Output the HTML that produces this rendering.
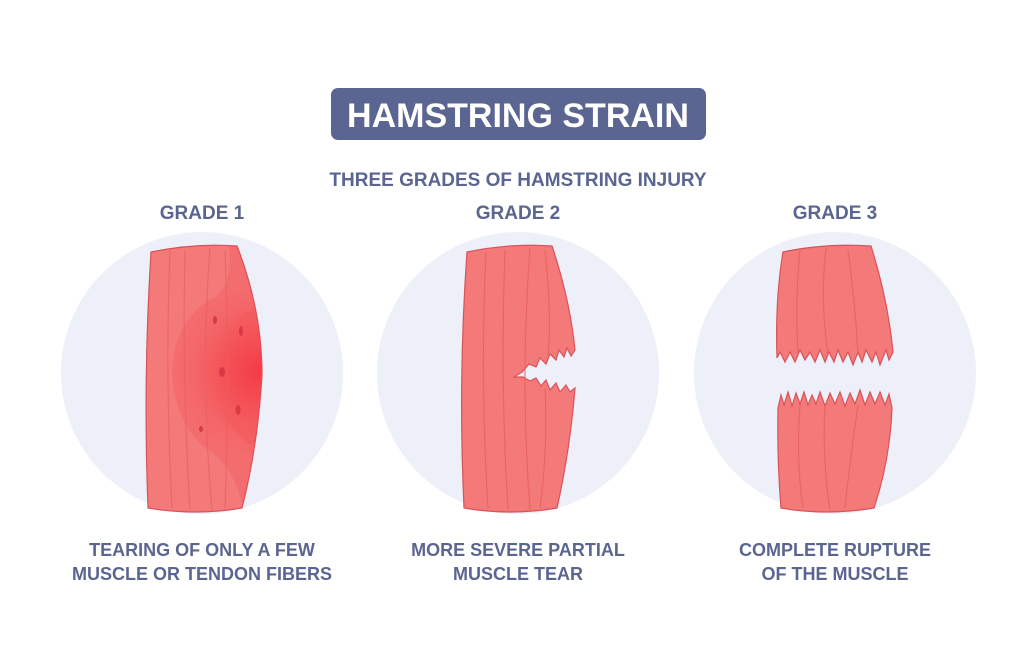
<!DOCTYPE html>
<html><head><meta charset="utf-8"><style>
body{margin:0;background:#fff;}
svg{display:block}
text{font-family:"Liberation Sans","DejaVu Sans",sans-serif;font-weight:bold;fill:#5b6591;text-anchor:middle}
</style></head><body>
<svg width="1024" height="668" viewBox="0 0 1024 668" xmlns="http://www.w3.org/2000/svg">
<defs>
<radialGradient id="bruise" cx="262" cy="372" r="95" gradientUnits="userSpaceOnUse">
<stop offset="0" stop-color="#f43a44"/><stop offset="0.45" stop-color="#f4555a"/><stop offset="1" stop-color="#f46a6b" stop-opacity="0"/>
</radialGradient>
<clipPath id="m1"><path d="M151,252 Q195,243 237,246 Q262,310 262,375 Q258,445 242,508 Q195,516 148,508 Q143,380 151,252Z"/></clipPath>
</defs>
<rect x="331" y="88" width="375" height="52" rx="7" fill="#5b6591"/>
<text x="518" y="127" font-size="34" style="fill:#fff">HAMSTRING STRAIN</text>
<text x="518" y="186" font-size="19">THREE GRADES OF HAMSTRING INJURY</text>
<text x="202" y="219" font-size="19">GRADE 1</text>
<text x="518" y="219" font-size="19">GRADE 2</text>
<text x="835" y="219" font-size="19">GRADE 3</text>

<circle cx="202" cy="373" r="141" fill="#edf0f8"/>
<circle cx="518" cy="373" r="141" fill="#edf0f8"/>
<circle cx="835" cy="373" r="141" fill="#edf0f8"/>

<!-- grade 1 -->
<path d="M151,252 Q195,243 237,246 Q262,310 262,375 Q258,445 242,508 Q195,516 148,508 Q143,380 151,252Z" fill="#f47a79"/>
<g clip-path="url(#m1)">
<path d="M228,240 Q235,290 210,300 Q175,320 172,372 Q175,430 215,455 Q235,470 245,515 L280,515 L280,240Z" fill="#f46d6e"/>
<path d="M258,305 Q225,320 215,370 Q215,420 250,445 L280,445 L280,305Z" fill="#f35f62"/>
<circle cx="262" cy="372" r="95" fill="url(#bruise)"/>
</g>
<path d="M151,252 Q195,243 237,246 Q262,310 262,375 Q258,445 242,508 Q195,516 148,508 Q143,380 151,252Z" fill="none" stroke="#d8525a" stroke-width="1.2"/>
<g stroke="#e6605f" stroke-width="1.2" fill="none" opacity="0.7">
<path d="M170,250 Q165,380 172,508"/><path d="M185,250 Q182,380 190,510"/><path d="M210,248 Q200,380 212,510"/><path d="M225,250 Q230,380 225,508"/>
</g>
<g fill="#d83a45"><ellipse cx="215" cy="320" rx="2" ry="4"/><ellipse cx="241" cy="331" rx="2" ry="5"/><ellipse cx="222" cy="372" rx="3" ry="5"/><ellipse cx="238" cy="410" rx="2.5" ry="5"/><ellipse cx="201" cy="429" rx="2" ry="3"/></g>

<!-- grade 2 -->
<path d="M467,252 Q510,243 552,246 Q570,300 575,350 L571,356 L567,348 L564,357 L559,350 L556,360 L550,354 L546,364 L540,358 L536,367 L529,364 L522,372 L514,377 L523,377 L530,381 L536,378 L541,386 L546,380 L550,390 L556,383 L560,392 L566,385 L570,392 L575,388 Q570,450 557,508 Q510,516 464,508 Q458,380 467,252Z" fill="#f47a79" stroke="#d8525a" stroke-width="1.2"/>
<g stroke="#e6605f" stroke-width="1.2" fill="none" opacity="0.8">
<path d="M486,252 Q480,380 488,508"/><path d="M505,250 Q500,380 508,510"/><path d="M530,248 Q520,380 530,510"/><path d="M545,250 Q552,320 548,355"/><path d="M545,388 Q548,450 540,508"/>
</g>

<!-- grade 3 -->
<path d="M783,252 Q825,243 871,246 Q888,300 893,352 L889,360 L886,350 L880,365 L876,352 L872,362 L866,350 L862,362 L858,352 L853,365 L848,352 L843,362 L838,350 L834,362 L829,352 L825,362 L820,350 L815,362 L810,352 L805,360 L800,350 L795,362 L790,352 L785,362 L780,352 L777,358 Q775,300 783,252Z" fill="#f47a79" stroke="#d8525a" stroke-width="1.2"/>
<path d="M778,408 L781,395 L784,405 L788,392 L792,406 L796,393 L800,404 L804,392 L808,405 L812,395 L816,404 L820,392 L825,406 L830,393 L835,404 L840,392 L845,406 L850,393 L855,404 L860,390 L865,405 L870,392 L875,404 L880,392 L885,405 L889,394 L892,408 Q890,460 874,508 Q825,516 781,508 Q777,460 778,408Z" fill="#f47a79" stroke="#d8525a" stroke-width="1.2"/>
<g stroke="#e6605f" stroke-width="1.2" fill="none" opacity="0.8">
<path d="M800,250 Q795,300 798,355"/><path d="M826,248 Q820,300 828,355"/><path d="M848,250 Q855,300 858,355"/>
<path d="M800,405 Q796,460 803,508"/><path d="M825,405 Q822,460 830,510"/><path d="M858,405 Q850,460 845,508"/>
</g>

<text x="202" y="556" font-size="18">TEARING OF ONLY A FEW</text>
<text x="202" y="580" font-size="18">MUSCLE OR TENDON FIBERS</text>
<text x="518" y="556" font-size="18">MORE SEVERE PARTIAL</text>
<text x="518" y="580" font-size="18">MUSCLE TEAR</text>
<text x="835" y="556" font-size="18">COMPLETE RUPTURE</text>
<text x="835" y="580" font-size="18">OF THE MUSCLE</text>
</svg>
</body></html>
